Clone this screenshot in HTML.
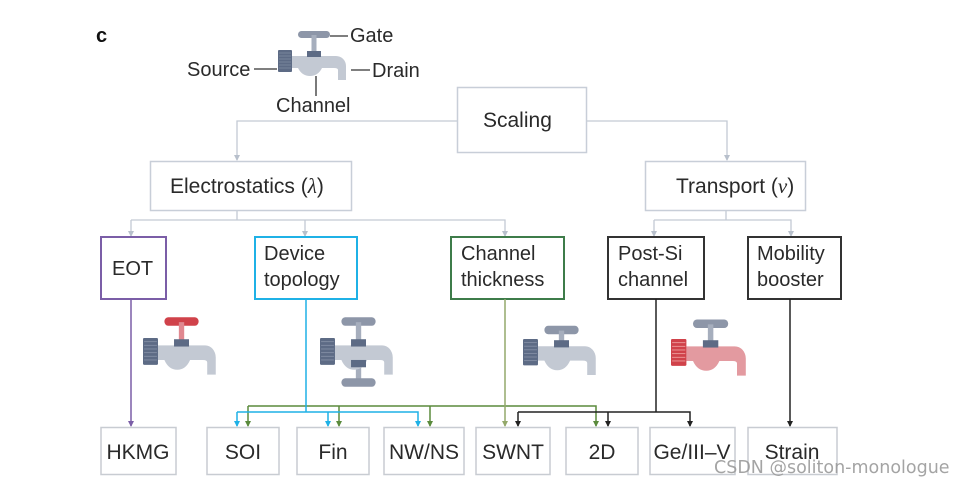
<!DOCTYPE html>
<html><head><meta charset="utf-8"><style>
html,body{margin:0;padding:0;background:#fff;}
svg{display:block;}
text{font-family:"Liberation Sans",Arial,sans-serif;fill:#2a2a2a;}
</style></head><body>
<svg width="962" height="487" viewBox="0 0 962 487" xmlns="http://www.w3.org/2000/svg">
<defs>
<g id="body">
  <path d="M14,6 H58 A10,10 0 0 1 68,16 V30 H60 V20 Q60,18 56,18 H44 Q40,26 32,26 Q24,26 20,18 H14 Z"/>
</g>
<g id="block">
  <rect x="0" y="0" width="14" height="22" rx="1"/>
</g>
<g id="stripes" stroke="#8590a6" stroke-width="0.7">
  <line x1="1" y1="3" x2="13" y2="3"/><line x1="1" y1="6" x2="13" y2="6"/><line x1="1" y1="9" x2="13" y2="9"/><line x1="1" y1="12" x2="13" y2="12"/><line x1="1" y1="15" x2="13" y2="15"/><line x1="1" y1="18" x2="13" y2="18"/>
</g>
<g id="stripesR" stroke="#f0a0a0" stroke-width="0.7">
  <line x1="1" y1="3" x2="13" y2="3"/><line x1="1" y1="6" x2="13" y2="6"/><line x1="1" y1="9" x2="13" y2="9"/><line x1="1" y1="12" x2="13" y2="12"/><line x1="1" y1="15" x2="13" y2="15"/><line x1="1" y1="18" x2="13" y2="18"/>
</g>
<marker id="ag" markerWidth="6" markerHeight="6" refX="3" refY="5" markerUnits="userSpaceOnUse"><path d="M0,0 L6,0 L3,6 Z" fill="#b8c0cc"/></marker>
<marker id="ap" markerWidth="6" markerHeight="6" refX="3" refY="5" markerUnits="userSpaceOnUse"><path d="M0,0 L6,0 L3,6 Z" fill="#7b5ea7"/></marker>
<marker id="ac" markerWidth="6" markerHeight="6" refX="3" refY="5" markerUnits="userSpaceOnUse"><path d="M0,0 L6,0 L3,6 Z" fill="#1fb1e6"/></marker>
<marker id="an" markerWidth="6" markerHeight="6" refX="3" refY="5" markerUnits="userSpaceOnUse"><path d="M0,0 L6,0 L3,6 Z" fill="#5a8a3c"/></marker>
<marker id="ao" markerWidth="6" markerHeight="6" refX="3" refY="5" markerUnits="userSpaceOnUse"><path d="M0,0 L6,0 L3,6 Z" fill="#93a86a"/></marker>
<marker id="ak" markerWidth="6" markerHeight="6" refX="3" refY="5" markerUnits="userSpaceOnUse"><path d="M0,0 L6,0 L3,6 Z" fill="#222"/></marker>
</defs>

<text x="96" y="42" style="font-weight:bold;font-size:20px;fill:#111">c</text>

<!-- top faucet -->
<g transform="translate(278,50)">
  <rect x="20" y="-19" width="32" height="7" rx="3.5" fill="#8d96a8"/>
  <rect x="33.5" y="-15" width="5" height="17" fill="#a6aebd"/>
  <use href="#body" fill="#c3c9d3"/>
  <rect x="29" y="1" width="14" height="6" fill="#5d6b85"/>
  <use href="#block" fill="#5d6b85"/><use href="#stripes"/>
</g>
<g stroke="#333" stroke-width="1.3">
  <line x1="330" y1="36" x2="348" y2="36"/>
  <line x1="254" y1="69" x2="277" y2="69"/>
  <line x1="351" y1="70" x2="370" y2="70"/>
  <line x1="316" y1="76" x2="316" y2="96"/>
</g>
<text x="350" y="42" font-size="20">Gate</text>
<text x="187" y="76" font-size="20">Source</text>
<text x="372" y="77" font-size="20">Drain</text>
<text x="276" y="112" font-size="20">Channel</text>

<!-- gray connectors -->
<g stroke="#c3cad4" stroke-width="1.3" fill="none">
  <polyline points="457,121 237,121 237,160" marker-end="url(#ag)"/>
  <polyline points="587,121 727,121 727,160" marker-end="url(#ag)"/>
  <line x1="237" y1="211" x2="237" y2="220"/>
  <polyline points="131,220 505,220 505,236" marker-end="url(#ag)"/>
  <line x1="305" y1="220" x2="305" y2="236" marker-end="url(#ag)"/>
  <line x1="131" y1="220" x2="131" y2="236" marker-end="url(#ag)"/>
  <line x1="726" y1="211" x2="726" y2="220"/>
  <polyline points="654,220 791,220 791,236" marker-end="url(#ag)"/>
  <line x1="654" y1="220" x2="654" y2="236" marker-end="url(#ag)"/>
</g>

<!-- top boxes -->
<g fill="#fff" stroke="#c8ced8" stroke-width="1.5">
  <rect x="457.5" y="87.5" width="129" height="65"/>
  <rect x="150.5" y="161.5" width="201" height="49"/>
  <rect x="645.5" y="161.5" width="160" height="49"/>
</g>
<text x="483" y="127" font-size="21">Scaling</text>
<text x="170" y="193" font-size="21">Electrostatics (<tspan font-style="italic" font-family="Liberation Serif">λ</tspan>)</text>
<text x="676" y="193" font-size="21">Transport (<tspan font-style="italic" font-family="Liberation Serif">ν</tspan>)</text>

<!-- middle boxes -->
<g fill="#fff" stroke-width="2">
  <rect x="101" y="237" width="65" height="62" stroke="#7b5ea7"/>
  <rect x="255" y="237" width="102" height="62" stroke="#1fb1e6"/>
  <rect x="451" y="237" width="113" height="62" stroke="#3e7c4a"/>
  <rect x="608" y="237" width="96" height="62" stroke="#333"/>
  <rect x="748" y="237" width="93" height="62" stroke="#333"/>
</g>
<text x="112" y="275" font-size="20">EOT</text>
<text x="264" y="260" font-size="20">Device</text>
<text x="264" y="286" font-size="20">topology</text>
<text x="461" y="260" font-size="20">Channel</text>
<text x="461" y="286" font-size="20">thickness</text>
<text x="618" y="260" font-size="20">Post-Si</text>
<text x="618" y="286" font-size="20">channel</text>
<text x="757" y="260" font-size="20">Mobility</text>
<text x="757" y="286" font-size="20">booster</text>

<!-- faucets -->
<g transform="translate(143,338) scale(1.07,1.22)">
  <rect x="20" y="-17" width="32" height="7" rx="3.5" fill="#d0424a"/>
  <rect x="33.5" y="-13" width="5" height="15" fill="#e08890"/>
  <use href="#body" fill="#c3c9d3"/>
  <rect x="29" y="1" width="14" height="6" fill="#5d6b85"/>
  <use href="#block" fill="#5d6b85"/><use href="#stripes"/>
</g>
<g transform="translate(320,338) scale(1.07,1.22)">
  <rect x="20" y="-17" width="32" height="7" rx="3.5" fill="#8d96a8"/>
  <rect x="33.5" y="-13" width="5" height="15" fill="#a6aebd"/>
  <rect x="33.5" y="20" width="5" height="16" fill="#a6aebd"/>
  <rect x="20" y="33" width="32" height="7" rx="3.5" fill="#8d96a8"/>
  <use href="#body" fill="#c3c9d3"/>
  <rect x="29" y="1" width="14" height="6" fill="#5d6b85"/>
  <rect x="29" y="18" width="14" height="6" fill="#5d6b85"/>
  <use href="#block" fill="#5d6b85"/><use href="#stripes"/>
</g>
<g transform="translate(523,339) scale(1.07,1.2)">
  <rect x="20" y="-11" width="32" height="7" rx="3.5" fill="#8d96a8"/>
  <rect x="33.5" y="-7" width="5" height="9" fill="#a6aebd"/>
  <use href="#body" fill="#c3c9d3"/>
  <rect x="29" y="1" width="14" height="6" fill="#5d6b85"/>
  <use href="#block" fill="#5d6b85"/><use href="#stripes"/>
</g>
<g transform="translate(671,339) scale(1.1,1.22)">
  <rect x="20" y="-16" width="32" height="7" rx="3.5" fill="#8d96a8"/>
  <rect x="33.5" y="-12" width="5" height="14" fill="#a6aebd"/>
  <use href="#body" fill="#e39aa0"/>
  <rect x="29" y="1" width="14" height="6" fill="#5d6b85"/>
  <use href="#block" fill="#d0424a"/><use href="#stripesR"/>
</g>

<!-- colored connectors -->
<g fill="none" stroke-width="1.5">
  <line x1="131" y1="299" x2="131" y2="426" stroke="#7b5ea7" marker-end="url(#ap)"/>
  <polyline points="248,406 596,406 596,426" stroke="#5a8a3c" marker-end="url(#an)"/>
  <line x1="339" y1="406" x2="339" y2="426" stroke="#5a8a3c" marker-end="url(#an)"/>
  <line x1="430" y1="406" x2="430" y2="426" stroke="#5a8a3c" marker-end="url(#an)"/>
  <line x1="248" y1="406" x2="248" y2="426" stroke="#5a8a3c" marker-end="url(#an)"/>
  <line x1="306" y1="299" x2="306" y2="412" stroke="#1fb1e6"/>
  <polyline points="237,412 418,412 418,426" stroke="#1fb1e6" marker-end="url(#ac)"/>
  <line x1="237" y1="412" x2="237" y2="426" stroke="#1fb1e6" marker-end="url(#ac)"/>
  <line x1="328" y1="412" x2="328" y2="426" stroke="#1fb1e6" marker-end="url(#ac)"/>
  <line x1="505" y1="299" x2="505" y2="426" stroke="#93a86a" marker-end="url(#ao)"/>
  <line x1="656" y1="299" x2="656" y2="412" stroke="#222"/>
  <polyline points="518,412 690,412 690,426" stroke="#222" marker-end="url(#ak)"/>
  <line x1="518" y1="412" x2="518" y2="426" stroke="#222" marker-end="url(#ak)"/>
  <line x1="608" y1="412" x2="608" y2="426" stroke="#222" marker-end="url(#ak)"/>
  <line x1="790" y1="299" x2="790" y2="426" stroke="#222" marker-end="url(#ak)"/>
</g>

<!-- bottom boxes -->
<g fill="#fff" stroke="#c8ccd2" stroke-width="1.5">
  <rect x="101" y="427.5" width="75" height="47"/>
  <rect x="207" y="427.5" width="72" height="47"/>
  <rect x="297" y="427.5" width="72" height="47"/>
  <rect x="384" y="427.5" width="80" height="47"/>
  <rect x="476" y="427.5" width="74" height="47"/>
  <rect x="566" y="427.5" width="72" height="47"/>
  <rect x="650" y="427.5" width="85" height="47"/>
  <rect x="748" y="427.5" width="89" height="47"/>
</g>
<g font-size="21" text-anchor="middle">
  <text x="138" y="459">HKMG</text>
  <text x="243" y="459">SOI</text>
  <text x="333" y="459">Fin</text>
  <text x="424" y="459">NW/NS</text>
  <text x="513" y="459">SWNT</text>
  <text x="602" y="459">2D</text>
  <text x="692" y="459">Ge/III–V</text>
  <text x="792" y="459">Strain</text>
</g>
<text x="714" y="473" font-size="17.5" style="fill:#9a9a9a;fill-opacity:0.9;font-family:'DejaVu Sans','Liberation Sans',sans-serif">CSDN @soliton-monologue</text>
</svg>
</body></html>
